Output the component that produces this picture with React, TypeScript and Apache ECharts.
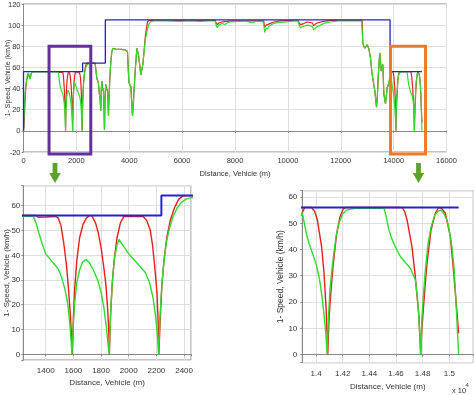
import React, { useEffect, useRef } from "react";
import * as echarts from "echarts";

// ---- data (distance m, speed km/h) ----
const limitPts = [[0, 0], [0, 56], [2236, 56], [2236, 64], [3095, 64], [3095, 105], [13865, 105], [13865, 56], [15070, 56]];

const greenStart = [[0, 0], [15, 9], [30, 20], [60, 36], [95, 44], [140, 52], [183, 55], [215, 51.5], [246, 48.8], [280, 53], [310, 55.7]];
const redStart = [[0, 0], [20, 5], [45, 20], [80, 38], [120, 48], [183, 54], [215, 52], [250, 50], [290, 54], [330, 56]];

const greenZoomA = [[1310, 55.7], [1330, 53], [1350, 49], [1375, 44.5], [1400, 40.5], [1430, 38.5], [1460, 36.5], [1490, 34.5], [1515, 31], [1540, 26], [1560, 20], [1575, 12], [1590, 0], [1598, 10], [1608, 20], [1625, 29], [1645, 34], [1665, 37], [1690, 38.3], [1715, 37], [1745, 34], [1775, 30], [1800, 25], [1820, 19], [1840, 10], [1858, 0], [1868, 15], [1880, 28], [1895, 38], [1915, 44], [1930, 46.3], [1945, 45], [1970, 43], [2000, 40.5], [2040, 38], [2080, 35.5], [2120, 33], [2150, 29], [2175, 23], [2195, 15], [2208, 7], [2215, 0], [2225, 14], [2238, 27], [2253, 37], [2272, 45], [2295, 51], [2320, 55.5], [2350, 59], [2380, 61.3], [2415, 62.6], [2450, 63.2], [2520, 63.8]];
const redZoomA = [[1330, 56], [1345, 55.3], [1400, 55.4], [1470, 55.6], [1490, 55], [1510, 52], [1530, 45], [1550, 36], [1565, 26], [1578, 16], [1586, 8], [1592, 0], [1600, 15], [1610, 27], [1625, 38], [1645, 47], [1670, 52.5], [1695, 55], [1720, 56], [1735, 55.7], [1760, 53], [1780, 49], [1800, 43], [1820, 35], [1835, 28], [1848, 18], [1856, 9], [1860, 0], [1868, 15], [1880, 28], [1895, 38], [1915, 47], [1940, 53], [1965, 55.6], [2105, 55.6], [2130, 54], [2156, 50], [2172, 44], [2185, 37], [2204, 25], [2212, 14], [2218, 0], [2228, 15], [2240, 28], [2255, 38], [2275, 47], [2300, 54], [2330, 59], [2360, 62.5], [2390, 63.8], [2420, 64]];

const midSection = [[2560, 64], [2708, 64], [2772, 50], [2835, 45], [2870, 35], [2898, 30], [2923, 19], [2945, 40], [2965, 47], [2995, 38], [3023, 40], [3045, 20], [3062, 1], [3085, 30], [3110, 44], [3140, 40], [3175, 38], [3200, 25], [3213, 14], [3240, 35], [3275, 55], [3303, 65], [3340, 75], [3378, 78], [3450, 77.5], [3530, 77], [3700, 77], [3845, 76.5], [3933, 75], [3985, 46], [4020, 44], [4060, 42], [4122, 14], [4160, 28], [4220, 55], [4288, 78], [4350, 72], [4439, 53], [4515, 63], [4560, 75]];

const greenPlateau = [[4602, 85], [4660, 93], [4729, 100], [4800, 103], [4917, 104], [5400, 104], [5928, 103.5], [6200, 104], [6686, 103.5], [7000, 104], [7250, 104], [7300, 99], [7318, 97.6], [7380, 100], [7506, 101.6], [7580, 101], [7633, 100.7], [7700, 102], [7822, 103], [8137, 103.5], [8400, 104], [8643, 102], [8800, 103.5], [9050, 103.5], [9084, 101.6], [9122, 93.2], [9186, 97], [9230, 96.5], [9273, 98.5], [9350, 100], [9462, 101.6], [9700, 102.5], [9970, 103], [10200, 104], [10380, 104], [10410, 101.6], [10473, 97.6], [10600, 99], [10727, 100], [10850, 99.5], [10930, 98.5], [10977, 95.5], [11040, 97], [11106, 98.5], [11230, 100], [11356, 101.6], [11610, 103], [11900, 104], [12400, 104], [12790, 104]];
const redPlateau = [[4602, 88], [4650, 97], [4690, 103], [4750, 104.5], [7250, 104.5], [7300, 101.5], [7318, 100.5], [7380, 102], [7506, 103], [7700, 103.5], [7822, 104], [9084, 104], [9122, 98], [9186, 100], [9273, 101], [9462, 103], [9700, 104], [10380, 104.5], [10410, 103], [10473, 100.5], [10600, 101.5], [10727, 103], [10930, 102], [10977, 99.5], [11040, 101], [11106, 102], [11356, 103.5], [11610, 104.5], [12790, 104.5]];

const descentSection = [[12810, 104], [12835, 83], [12870, 80], [12910, 78.3], [12960, 80], [13000, 81.4], [13060, 78], [13125, 69], [13180, 55], [13227, 47.2], [13290, 37.9], [13352, 22.3], [13380, 30], [13415, 50.3], [13450, 65], [13478, 73.6], [13530, 56.5], [13592, 62.8], [13630, 34.8], [13693, 25.5], [13756, 41]];

const greenZoomB = [[13790, 43], [13818, 45.6], [13860, 52], [13897, 54], [13912, 50], [13930, 45.5], [13950, 42], [13970, 39], [14000, 34.5], [14025, 29], [14045, 22], [14062, 14], [14075, 7], [14083, 0], [14093, 14], [14105, 25], [14125, 35], [14150, 45], [14175, 50.5], [14200, 53.5], [14230, 55], [14270, 55.5], [14300, 55.7], [14510, 55.7], [14525, 53], [14544, 48], [14565, 44.5], [14590, 41.5], [14633, 37.3], [14670, 35], [14708, 32.8], [14745, 28.4], [14760, 22], [14770, 15.8], [14778, 8], [14785, 0], [14795, 14], [14805, 22], [14820, 32], [14840, 42], [14863, 48.5], [14890, 53], [14915, 54.5], [14935, 55], [14955, 54], [14983, 51.3], [15000, 47], [15020, 41], [15035, 33], [15045, 24.6], [15055, 15], [15063, 7], [15070, 0]];
const redZoomB = [[13790, 43], [13818, 45], [13850, 48], [13875, 52], [13897, 54], [13915, 56], [13967, 56], [13990, 54.5], [14010, 51.3], [14042, 41], [14060, 31], [14075, 18], [14082, 9], [14088, 0], [14094, 9], [14100, 15.7], [14115, 26], [14130, 34.8], [14155, 46], [14180, 52.5], [14205, 55.5], [14225, 56], [14645, 56], [14665, 54.5], [14683, 51.3], [14720, 41], [14745, 29.6], [14760, 21], [14770, 15.7], [14779, 7], [14785, 0], [14792, 8], [14803, 15.7], [14818, 26], [14833, 34.8], [14863, 47.4], [14895, 53.8], [14920, 56], [14940, 55.8], [14970, 53.8], [15008, 44.9], [15033, 30.9], [15058, 15.7], [15070, 8]];

const greenSpeed = [...greenStart, ...greenZoomA, ...midSection, ...greenPlateau, ...descentSection, ...greenZoomB];
const redSpeed = [...redStart, ...redZoomA, ...midSection, ...redPlateau, ...descentSection, ...redZoomB];

// zoom windows (data coords of the highlighted boxes)
const zoomBoxX = [[966, 2545], [13883, 15208]];
const zoomBoxY = [-22, 80];

// axis ranges
const topX = [0, 16000];
const topY = [-20, 120];
const leftX = [1238, 2450];
const leftY = [-2.3, 68];
const rightX = [13897, 15180];
const rightY = [-3.2, 62.4];

const FONT = "'Liberation Sans', Arial, sans-serif";
const TXT = "#333";
const BLUE = "#2424c8";
const RED = "#ec1c1c";
const GREEN = "#2edb2e";

export default function App() {
  const ref = useRef<HTMLDivElement>(null);
  useEffect(() => {
    const chart = echarts.init(ref.current!, null, { renderer: "svg" });

    const xAxisBase = (g: number, fs: number, margin: number, gap: number) => ({
      gridIndex: g,
      type: "value",
      axisLine: { lineStyle: { color: "#888", width: 1 } },
      axisTick: { show: true, length: 2, lineStyle: { color: "#888" } },
      axisLabel: { fontSize: fs, color: TXT, margin, fontFamily: FONT, formatter: (v: number) => String(v) },
      splitLine: { show: true, lineStyle: { color: "#dedede", width: 1 } },
      name: "Distance, Vehicle (m)",
      nameLocation: "middle",
      nameGap: gap,
      nameMoveOverlap: false,
      nameTextStyle: { fontSize: fs, color: TXT, fontFamily: FONT },
    });
    const yAxisBase = (g: number, fs: number, nfs: number, margin: number, gap: number) => ({
      gridIndex: g,
      type: "value",
      axisLine: { show: true, lineStyle: { color: "#888", width: 1 } },
      axisTick: { show: true, length: 2, lineStyle: { color: "#888" } },
      axisLabel: { fontSize: fs, color: TXT, margin, fontFamily: FONT, formatter: (v: number) => String(v) },
      splitLine: { show: true, lineStyle: { color: "#dedede", width: 1 } },
      name: "1- Speed, Vehicle (km/h)",
      nameLocation: "middle",
      nameGap: gap,
      nameMoveOverlap: false,
      nameTextStyle: { fontSize: nfs, color: TXT, fontFamily: FONT },
    });

    const mk = (g: number, w: number) => [
      { type: "line", xAxisIndex: g, yAxisIndex: g, data: redSpeed, showSymbol: false, symbol: "none", lineStyle: { color: RED, width: w }, z: 2 },
      { type: "line", xAxisIndex: g, yAxisIndex: g, data: greenSpeed, showSymbol: false, symbol: "none", lineStyle: { color: GREEN, width: w }, z: 3 },
      { type: "line", xAxisIndex: g, yAxisIndex: g, data: limitPts, showSymbol: false, symbol: "none", lineStyle: { color: BLUE, width: g === 0 ? 1.3 : 2 }, z: 4 },
    ];

    const fmtLeftX = (v: number) => (v % 200 === 0 ? String(v) : "");
    const fmtRightX = (v: number) => (v % 200 === 0 ? String(Number((v / 10000).toFixed(2))) : "");
    const fmtY = (v: number) => (Number.isInteger(v) && v % 10 === 0 ? String(v) : "");

    const gridBase = { show: true, borderWidth: 1, containLabel: false, outerBoundsMode: "none" };
    const option: any = {
      animation: false,
      textStyle: { fontFamily: FONT },
      grid: [
        { ...gridBase, left: 23.5, top: 4, width: 423, height: 148, borderColor: "#8a8296" },
        { ...gridBase, left: 23.3, top: 185.7, width: 167.7, height: 174.3, borderColor: "#888" },
        { ...gridBase, left: 302.3, top: 190.7, width: 171, height: 172, borderColor: "#888" },
      ],
      xAxis: [
        { ...xAxisBase(0, 7.5, 4, 17), min: topX[0], max: topX[1], interval: 2000 },
        { ...xAxisBase(1, 8, 6, 18), min: leftX[0], max: leftX[1], splitNumber: 6, axisLabel: { fontSize: 8, color: TXT, margin: 6, fontFamily: FONT, formatter: fmtLeftX } },
        { ...xAxisBase(2, 8, 7, 20), min: rightX[0], max: rightX[1], splitNumber: 6, axisLabel: { fontSize: 8, color: TXT, margin: 7, fontFamily: FONT, formatter: fmtRightX } },
      ],
      yAxis: [
        { ...yAxisBase(0, 7.5, 7, 3, 12.5), min: topY[0], max: topY[1], interval: 20 },
        { ...yAxisBase(1, 8, 8, 3, 12.5), min: leftY[0], max: leftY[1], splitNumber: 7, axisLabel: { fontSize: 8, color: TXT, margin: 3, fontFamily: FONT, formatter: fmtY } },
        { ...yAxisBase(2, 8, 8.5, 5, 18), min: rightY[0], max: rightY[1], splitNumber: 7, axisLabel: { fontSize: 8, color: TXT, margin: 5, fontFamily: FONT, formatter: fmtY } },
      ],
      series: [...mk(0, 1.2), ...mk(1, 1.4), ...mk(2, 1.4)],
    };
    chart.setOption(option);

    const boxColors = ["#64309c", "#ef7a22"];
    const graphics: any[] = zoomBoxX.map((xr, i) => {
      const p1 = chart.convertToPixel({ gridIndex: 0 }, [xr[0], zoomBoxY[1]]) as number[];
      const p2 = chart.convertToPixel({ gridIndex: 0 }, [xr[1], zoomBoxY[0]]) as number[];
      return {
        type: "rect",
        z: 100,
        shape: { x: p1[0], y: p1[1], width: p2[0] - p1[0], height: p2[1] - p1[1] },
        style: { fill: "none", stroke: boxColors[i], lineWidth: 3 },
      };
    });
    const arrow = (cx: number) => ({
      type: "polygon",
      z: 100,
      shape: {
        points: [
          [cx - 2.4, 163], [cx + 2.4, 163], [cx + 2.4, 173], [cx + 5.8, 173],
          [cx, 183], [cx - 5.8, 173], [cx - 2.4, 173],
        ],
      },
      style: { fill: "#5ea12e" },
    });
    graphics.push(arrow(55), arrow(418.5));
    graphics.push({ type: "text", z: 100, x: 452, y: 386.5, style: { text: "x 10", fontSize: 7.5, fill: TXT, fontFamily: FONT } });
    graphics.push({ type: "text", z: 100, x: 465.5, y: 382, style: { text: "4", fontSize: 6, fill: TXT, fontFamily: FONT } });
    chart.setOption({ graphic: graphics });

    return () => chart.dispose();
  }, []);
  return <div ref={ref} style={{ position: "fixed", left: 0, top: 0, width: 474, height: 395 }} />;
}
